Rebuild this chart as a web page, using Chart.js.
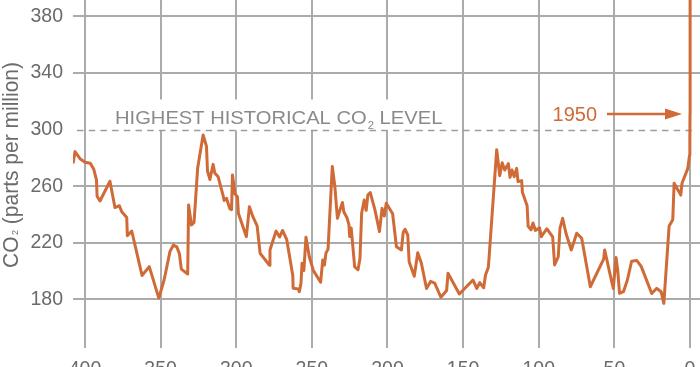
<!DOCTYPE html>
<html>
<head>
<meta charset="utf-8">
<script src="https://cdn.jsdelivr.net/npm/chart.js@4"></script>
<style>
  html, body { margin: 0; padding: 0; background: #fff; overflow: hidden; }
  #wrap { width: 700px; height: 367px; overflow: hidden; position: relative; }
  canvas { display: block; }
</style>
</head>
<body>
<div id="wrap"><canvas id="c" width="700" height="400"></canvas></div>
<script>
// Thousands of years before 1950 (x) and CO2 concentration in ppm (y)
const agesKyr = [
  407.7, 406.6, 403.3, 400.0, 396.5, 394.2, 392.4, 392.0, 390.1, 383.5,
  380.2, 377.3, 375.7, 372.4, 372.0, 369.1, 362.3, 357.5, 351.2, 347.7,
  343.8, 341.6, 339.3, 337.6, 336.3, 332.1, 331.5, 329.6, 327.9, 325.5,
  321.9, 319.7, 319.0, 317.4, 315.3, 314.2, 312.0, 308.8, 308.0, 306.4,
  304.3, 303.1, 302.5, 300.8, 299.2, 298.6, 293.3, 291.3, 289.0, 286.2,
  284.2, 278.0, 277.7, 273.7, 271.3, 269.4, 266.6, 262.6, 262.4, 259.1,
  258.3, 257.2, 256.5, 255.3, 253.9, 251.7, 249.0, 244.2, 242.8, 241.7,
  240.7, 239.3, 236.5, 234.8, 233.1, 231.4, 229.8, 228.9, 226.8, 225.5,
  225.0, 224.0, 221.7, 219.5, 218.2, 217.1, 215.4, 214.1, 213.0, 211.4,
  208.3, 205.3, 203.6, 202.1, 200.8, 196.6, 194.1, 190.8, 189.6, 188.4,
  186.6, 185.7, 182.3, 180.0, 177.6, 174.2, 171.5, 168.8, 164.7, 160.9,
  160.0, 152.5, 143.5, 141.0, 139.0, 136.4, 135.2, 133.3, 127.8, 125.8,
  124.2, 122.5, 120.1, 119.0, 117.7, 116.2, 114.6, 113.7, 111.3, 110.8,
  107.7, 107.0, 105.1, 103.8, 102.2, 99.5, 98.3, 94.7, 90.8, 89.5,
  87.1, 86.0, 84.2, 82.0, 78.5, 74.9, 71.6, 65.9, 57.1, 56.4,
  53.1, 50.7, 48.9, 47.8, 46.6, 44.0, 41.4, 38.6, 35.2, 32.2,
  25.3, 22.0, 19.1, 17.3, 13.8, 11.4, 10.5, 6.1, 5.3, 1.5,
  0.3, 0.1, 0.0, -0.07
];
const co2Ppm = [
  277, 284.5, 279.5, 277, 276.3, 272, 264.5, 253, 249.6, 263.6,
  245, 246.3, 242, 238, 225, 228.4, 197, 203.2, 181, 193.8,
  214, 218.4, 217.2, 212.5, 201.5, 198, 246.8, 232.7, 234.5, 273,
  296.3, 288.3, 270.8, 264.8, 275.5, 269.4, 266.8, 254, 250, 251.5,
  244.2, 243.5, 268, 254.5, 252.6, 241, 224.4, 245.6, 238.5, 232,
  212.6, 204.2, 215, 228.3, 224.2, 228.8, 222.3, 196.8, 188, 187.5,
  185.5, 191.4, 205.6, 200.5, 224, 210.2, 200.4, 192.2, 207.9, 204.4,
  212.8, 215.6, 274, 259.7, 237.4, 243.3, 248.6, 242, 237.8, 232.7,
  224.5, 230.5, 203, 201, 209, 241, 250.3, 243, 253.8, 255.5,
  243.3, 228, 244.4, 239, 248, 240.6, 217.3, 215, 227.5, 229.6,
  225.6, 206.7, 196.4, 213.1, 205.6, 187.8, 192.8, 191.6, 181.6, 186.4,
  198.5, 183.9, 193.8, 187.8, 191.9, 188.3, 197.3, 202.8, 285.9, 267.5,
  276.7, 271.5, 276, 266.3, 271.5, 266.8, 272.7, 263.3, 264, 255.8,
  246.2, 231.7, 229.3, 234.1, 228.8, 230.6, 224.4, 230, 224.2, 204.4,
  210.2, 230, 237.4, 226.8, 215, 226.8, 223.3, 189, 208.5, 215,
  199, 187.8, 209.6, 200.8, 184.4, 185.5, 193.8, 207, 207.6, 203.2,
  184.2, 187.9, 185.5, 177.3, 232, 236.4, 262.1, 253.8, 262.1, 272.5,
  282, 292, 311, 412
];
const xTicks = [400, 350, 300, 250, 200, 150, 100, 50, 0];
const yTicks = [180, 220, 260, 300, 340, 380];
const historicalMax = 300;   // highest historical CO2 level
const level1950 = 311;       // CO2 level marked by the 1950 arrow

const ORANGE = '#D06A36';
const GRID = '#ababab';
const TICK_COLOR = '#6b6b6b';
const FONT = "'Liberation Sans', Arial, Helvetica, sans-serif";

const annotationPlugin = {
  id: 'annotations',
  beforeDatasetsDraw(chart) {
    const { ctx, scales: { y } } = chart;
    const yH = Math.round(y.getPixelForValue(historicalMax)) + 0.5;
    ctx.save();
    // white box behind the label (hides grid lines)
    ctx.fillStyle = '#ffffff';
    ctx.fillRect(106, yH - 31, 346, 31);
    // dashed line
    ctx.strokeStyle = '#9c9c9c';
    ctx.lineWidth = 1.6;
    ctx.setLineDash([6.5, 5.2]);
    ctx.beginPath();
    ctx.moveTo(77, yH);
    ctx.lineTo(694, yH);
    ctx.stroke();
    ctx.setLineDash([]);
    // label with subscript
    ctx.fillStyle = '#8a8a8a';
    ctx.textBaseline = 'alphabetic';
    ctx.textAlign = 'left';
    const sx = 1.12;
    ctx.translate(115, yH - 6.8);
    ctx.scale(sx, 1);
    ctx.font = '18px ' + FONT;
    const p1 = 'HIGHEST HISTORICAL CO';
    ctx.fillText(p1, 0, 0);
    let w = ctx.measureText(p1).width;
    ctx.font = '10px ' + FONT;
    ctx.fillText('2', w + 1, 5);
    w += ctx.measureText('2').width + 1;
    ctx.font = '18px ' + FONT;
    ctx.fillText(' LEVEL', w, 0);
    ctx.restore();

    // 1950 arrow
    const yA = Math.round(y.getPixelForValue(level1950));
    ctx.save();
    ctx.fillStyle = ORANGE;
    ctx.strokeStyle = ORANGE;
    ctx.font = '20px ' + FONT;
    ctx.textAlign = 'right';
    ctx.textBaseline = 'middle';
    ctx.fillText('1950', 597, yA + 1);
    ctx.lineWidth = 2.5;
    ctx.beginPath();
    ctx.moveTo(607, yA);
    ctx.lineTo(668, yA);
    ctx.stroke();
    ctx.beginPath();
    ctx.moveTo(665, yA - 5.5);
    ctx.lineTo(682, yA);
    ctx.lineTo(665, yA + 5.5);
    ctx.closePath();
    ctx.fill();
    ctx.restore();
  },
  afterDraw(chart) {
    const { ctx } = chart;
    ctx.save();
    ctx.fillStyle = TICK_COLOR;
    ctx.translate(18, 268);
    ctx.rotate(-Math.PI / 2);
    ctx.scale(1, 1.08);
    ctx.textBaseline = 'alphabetic';
    ctx.textAlign = 'left';
    ctx.font = '21px ' + FONT;
    ctx.fillText('CO', 0, 0);
    let w = ctx.measureText('CO').width;
    ctx.font = '9px ' + FONT;
    ctx.fillText('2', w + 1.5, 0);
    w += ctx.measureText('2').width + 1.5;
    ctx.font = '21px ' + FONT;
    ctx.fillText(' (parts per million)', w, 0);
    ctx.restore();
  }
};

new Chart(document.getElementById('c'), {
  type: 'line',
  data: {
    datasets: [{
      data: agesKyr.map((a, i) => ({ x: a, y: co2Ppm[i] })),
      borderColor: ORANGE,
      borderWidth: 3,
      pointRadius: 0,
      tension: 0,
      borderJoinStyle: 'round',
      borderCapStyle: 'round',
      fill: false
    }]
  },
  options: {
    responsive: false,
    animation: false,
    devicePixelRatio: 1,
    layout: { padding: 0 },
    plugins: { legend: { display: false }, tooltip: { enabled: false } },
    scales: {
      x: {
        type: 'linear',
        reverse: true,
        min: -6.61,
        max: 407.93,
        border: { display: false },
        grid: { color: GRID, lineWidth: 2, drawTicks: false },
        ticks: {
          color: TICK_COLOR,
          font: { family: FONT, size: 19.5 },
          padding: 10,
          maxRotation: 0,
          autoSkip: false
        },
        afterBuildTicks(scale) { scale.ticks = xTicks.map(v => ({ value: v })); },
        afterFit(scale) {
          scale.height = 52;
          scale.paddingLeft = 0; scale.paddingRight = 0;
        }
      },
      y: {
        type: 'linear',
        min: 145.72,
        max: 391.66,
        border: { display: false },
        grid: {
          color: ctx => (ctx.tick && ctx.tick.value === historicalMax) ? 'rgba(0,0,0,0)' : GRID,
          lineWidth: 2,
          drawTicks: false
        },
        ticks: {
          color: TICK_COLOR,
          font: { family: FONT, size: 19.5 },
          padding: 10,
          autoSkip: false
        },
        afterBuildTicks(scale) { scale.ticks = yTicks.map(v => ({ value: v })); },
        afterFit(scale) {
          scale.width = 73;
          scale.paddingTop = 0; scale.paddingBottom = 0;
        }
      }
    }
  },
  plugins: [annotationPlugin]
});
</script>
</body>
</html>
